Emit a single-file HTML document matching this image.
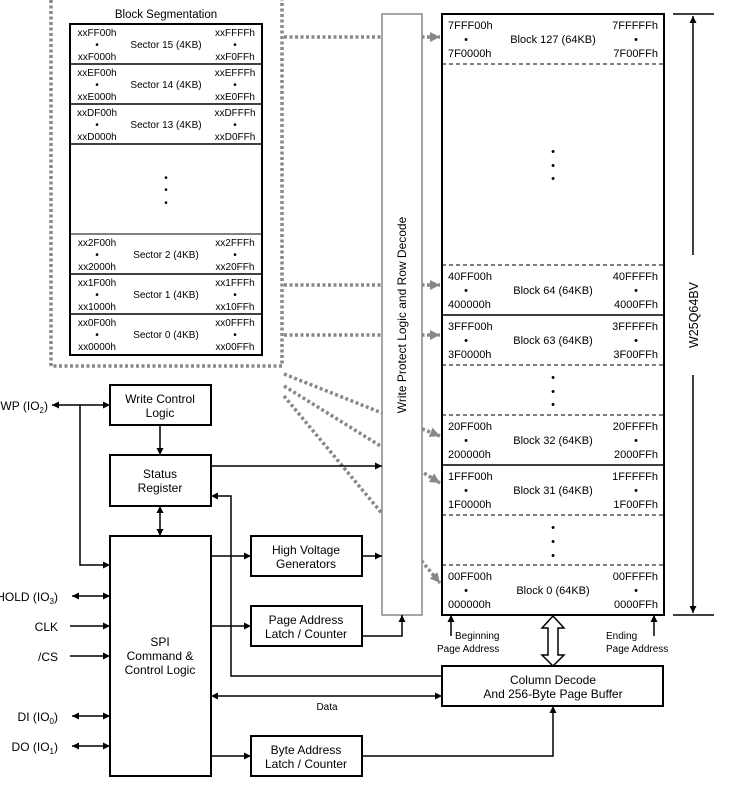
<!DOCTYPE html>
<html><head><meta charset="utf-8"><style>
html,body{margin:0;padding:0;background:#fff;}
svg{display:block;font-family:"Liberation Sans",Arial,sans-serif;}
</style></head><body>
<svg width="737" height="785" viewBox="0 0 737 785" xmlns="http://www.w3.org/2000/svg">
<defs>
<marker id="a" viewBox="0 0 10 10" refX="10" refY="5" markerWidth="9" markerHeight="7" markerUnits="userSpaceOnUse" orient="auto-start-reverse"><path d="M0,0L10,5L0,10z" fill="#000"/></marker>
<marker id="g" viewBox="0 0 10 10" refX="10" refY="5" markerWidth="11" markerHeight="10" markerUnits="userSpaceOnUse" orient="auto"><path d="M0,0L10,5L0,10z" fill="#888"/></marker>
</defs>
<g stroke="#888" stroke-width="3.5" stroke-dasharray="3,2.5" fill="none">
<path d="M51,0V366H282V0"/>
<path d="M284,37H440" marker-end="url(#g)"/>
<path d="M284,285H440" marker-end="url(#g)"/>
<path d="M284,335H440" marker-end="url(#g)"/>
<path d="M284,374L440,436" marker-end="url(#g)"/>
<path d="M284,386L440,483" marker-end="url(#g)"/>
<path d="M284,396L440,583" marker-end="url(#g)"/>
</g>
<text x="166" y="18" font-size="11.5" text-anchor="middle">Block Segmentation</text>
<rect x="70" y="24" width="192" height="331" fill="#fff" stroke="#000" stroke-width="2"/>
<g stroke="#000" stroke-width="1.5">
<line x1="70" y1="64" x2="262" y2="64"/><line x1="70" y1="104" x2="262" y2="104"/><line x1="70" y1="144" x2="262" y2="144"/>
<line x1="70" y1="234" x2="262" y2="234" stroke-width="1"/><line x1="70" y1="274" x2="262" y2="274"/><line x1="70" y1="314" x2="262" y2="314"/>
</g>
<g font-size="10" text-anchor="middle">
<g transform="translate(0,24)"><text x="97" y="12">xxFF00h</text><text x="97" y="24">•</text><text x="97" y="36">xxF000h</text><text x="166" y="24">Sector 15 (4KB)</text><text x="235" y="12">xxFFFFh</text><text x="235" y="24">•</text><text x="235" y="36">xxF0FFh</text></g>
<g transform="translate(0,64)"><text x="97" y="12">xxEF00h</text><text x="97" y="24">•</text><text x="97" y="36">xxE000h</text><text x="166" y="24">Sector 14 (4KB)</text><text x="235" y="12">xxEFFFh</text><text x="235" y="24">•</text><text x="235" y="36">xxE0FFh</text></g>
<g transform="translate(0,104)"><text x="97" y="12">xxDF00h</text><text x="97" y="24">•</text><text x="97" y="36">xxD000h</text><text x="166" y="24">Sector 13 (4KB)</text><text x="235" y="12">xxDFFFh</text><text x="235" y="24">•</text><text x="235" y="36">xxD0FFh</text></g>
<text x="166" y="181">•</text><text x="166" y="193">•</text><text x="166" y="206">•</text>
<g transform="translate(0,234)"><text x="97" y="12">xx2F00h</text><text x="97" y="24">•</text><text x="97" y="36">xx2000h</text><text x="166" y="24">Sector 2 (4KB)</text><text x="235" y="12">xx2FFFh</text><text x="235" y="24">•</text><text x="235" y="36">xx20FFh</text></g>
<g transform="translate(0,274)"><text x="97" y="12">xx1F00h</text><text x="97" y="24">•</text><text x="97" y="36">xx1000h</text><text x="166" y="24">Sector 1 (4KB)</text><text x="235" y="12">xx1FFFh</text><text x="235" y="24">•</text><text x="235" y="36">xx10FFh</text></g>
<g transform="translate(0,314)"><text x="97" y="12">xx0F00h</text><text x="97" y="24">•</text><text x="97" y="36">xx0000h</text><text x="166" y="24">Sector 0 (4KB)</text><text x="235" y="12">xx0FFFh</text><text x="235" y="24">•</text><text x="235" y="36">xx00FFh</text></g>
</g>
<!-- write protect -->
<rect x="382" y="14" width="40" height="601" fill="#fff" stroke="#888" stroke-width="1.5"/>
<text transform="translate(406,315) rotate(-90)" font-size="12" text-anchor="middle">Write Protect Logic and Row Decode</text>
<!-- memory array -->
<rect x="442" y="14" width="222" height="601" fill="#fff" stroke="#000" stroke-width="2"/>
<g stroke="#000" stroke-width="1" stroke-dasharray="4,3">
<line x1="442" y1="64" x2="664" y2="64"/><line x1="442" y1="265" x2="664" y2="265"/>
<line x1="442" y1="365" x2="664" y2="365"/><line x1="442" y1="415" x2="664" y2="415"/>
<line x1="442" y1="515" x2="664" y2="515"/><line x1="442" y1="565" x2="664" y2="565"/>
</g>
<g stroke="#000" stroke-width="1.5"><line x1="442" y1="315" x2="664" y2="315"/><line x1="442" y1="465" x2="664" y2="465"/></g>
<g font-size="11">
<g transform="translate(0,14)"><text x="448" y="15">7FFF00h</text><text x="466" y="29" text-anchor="middle">•</text><text x="448" y="43">7F0000h</text><text x="553" y="29" text-anchor="middle">Block 127 (64KB)</text><text x="658" y="15" text-anchor="end">7FFFFFh</text><text x="636" y="29" text-anchor="middle">•</text><text x="658" y="43" text-anchor="end">7F00FFh</text></g>
<g transform="translate(0,265)"><text x="448" y="15">40FF00h</text><text x="466" y="29" text-anchor="middle">•</text><text x="448" y="43">400000h</text><text x="553" y="29" text-anchor="middle">Block 64 (64KB)</text><text x="658" y="15" text-anchor="end">40FFFFh</text><text x="636" y="29" text-anchor="middle">•</text><text x="658" y="43" text-anchor="end">4000FFh</text></g>
<g transform="translate(0,315)"><text x="448" y="15">3FFF00h</text><text x="466" y="29" text-anchor="middle">•</text><text x="448" y="43">3F0000h</text><text x="553" y="29" text-anchor="middle">Block 63 (64KB)</text><text x="658" y="15" text-anchor="end">3FFFFFh</text><text x="636" y="29" text-anchor="middle">•</text><text x="658" y="43" text-anchor="end">3F00FFh</text></g>
<g transform="translate(0,415)"><text x="448" y="15">20FF00h</text><text x="466" y="29" text-anchor="middle">•</text><text x="448" y="43">200000h</text><text x="553" y="29" text-anchor="middle">Block 32 (64KB)</text><text x="658" y="15" text-anchor="end">20FFFFh</text><text x="636" y="29" text-anchor="middle">•</text><text x="658" y="43" text-anchor="end">2000FFh</text></g>
<g transform="translate(0,465)"><text x="448" y="15">1FFF00h</text><text x="466" y="29" text-anchor="middle">•</text><text x="448" y="43">1F0000h</text><text x="553" y="29" text-anchor="middle">Block 31 (64KB)</text><text x="658" y="15" text-anchor="end">1FFFFFh</text><text x="636" y="29" text-anchor="middle">•</text><text x="658" y="43" text-anchor="end">1F00FFh</text></g>
<g transform="translate(0,565)"><text x="448" y="15">00FF00h</text><text x="466" y="29" text-anchor="middle">•</text><text x="448" y="43">000000h</text><text x="553" y="29" text-anchor="middle">Block 0 (64KB)</text><text x="658" y="15" text-anchor="end">00FFFFh</text><text x="636" y="29" text-anchor="middle">•</text><text x="658" y="43" text-anchor="end">0000FFh</text></g>
<g text-anchor="middle"><text x="553" y="155">•</text><text x="553" y="169">•</text><text x="553" y="182">•</text>
<text x="553" y="381">•</text><text x="553" y="395">•</text><text x="553" y="408">•</text>
<text x="553" y="531">•</text><text x="553" y="545">•</text><text x="553" y="559">•</text></g>
</g>
<!-- W25Q64BV -->
<g stroke="#000" stroke-width="1.5" fill="none">
<line x1="673" y1="14" x2="714" y2="14"/><line x1="673" y1="615" x2="714" y2="615"/>
<line x1="693" y1="255" x2="693" y2="16" marker-end="url(#a)"/>
<line x1="693" y1="375" x2="693" y2="613" marker-end="url(#a)"/>
</g>
<text transform="translate(698,315) rotate(-90)" font-size="12.5" text-anchor="middle">W25Q64BV</text>
<!-- left blocks -->
<g fill="#fff" stroke="#000" stroke-width="2">
<rect x="110" y="385" width="101" height="40"/>
<rect x="110" y="455" width="101" height="51"/>
<rect x="110" y="536" width="101" height="240"/>
<rect x="251" y="536" width="111" height="40"/>
<rect x="251" y="606" width="111" height="40"/>
<rect x="251" y="736" width="111" height="40"/>
<rect x="442" y="666" width="221" height="40"/>
</g>
<g font-size="12" text-anchor="middle">
<text x="160" y="403">Write Control</text><text x="160" y="417">Logic</text>
<text x="160" y="478">Status</text><text x="160" y="492">Register</text>
<text x="160" y="646">SPI</text><text x="160" y="660">Command &amp;</text><text x="160" y="674">Control Logic</text>
<text x="306" y="554">High Voltage</text><text x="306" y="568">Generators</text>
<text x="306" y="624">Page Address</text><text x="306" y="638">Latch / Counter</text>
<text x="306" y="754">Byte Address</text><text x="306" y="768">Latch / Counter</text>
<text x="553" y="684">Column Decode</text><text x="553" y="698">And 256-Byte Page Buffer</text>
</g>
<g font-size="12" text-anchor="end">
<text x="48" y="410">WP (IO<tspan font-size="8" dy="3">2</tspan><tspan dy="-3">)</tspan></text>
<text x="58" y="601">HOLD (IO<tspan font-size="8" dy="3">3</tspan><tspan dy="-3">)</tspan></text>
<text x="58" y="631">CLK</text>
<text x="58" y="661">/CS</text>
<text x="58" y="721">DI (IO<tspan font-size="8" dy="3">0</tspan><tspan dy="-3">)</tspan></text>
<text x="58" y="751">DO (IO<tspan font-size="8" dy="3">1</tspan><tspan dy="-3">)</tspan></text>
</g>
<text x="327" y="710" font-size="10" text-anchor="middle">Data</text>
<g font-size="10">
<text x="455" y="639">Beginning</text><text x="437" y="652">Page Address</text>
<text x="606" y="639">Ending</text><text x="606" y="652">Page Address</text>
</g>
<!-- connectors -->
<g stroke="#000" stroke-width="1.5" fill="none">
<path d="M52,405H110" marker-start="url(#a)" marker-end="url(#a)"/>
<path d="M80,405V565H110" marker-end="url(#a)"/>
<path d="M160,425V455" marker-end="url(#a)"/>
<path d="M160,506V536" marker-start="url(#a)" marker-end="url(#a)"/>
<path d="M211,466H382" marker-end="url(#a)"/>
<path d="M442,676H231V496H211" marker-end="url(#a)"/>
<path d="M211,556H251" marker-end="url(#a)"/>
<path d="M362,556H382" marker-end="url(#a)"/>
<path d="M211,626H251" marker-end="url(#a)"/>
<path d="M362,636H402V615" marker-end="url(#a)"/>
<path d="M211,696H442" marker-start="url(#a)" marker-end="url(#a)"/>
<path d="M211,756H251" marker-end="url(#a)"/>
<path d="M362,756H553V706" marker-end="url(#a)"/>
<path d="M72,596H110" marker-start="url(#a)" marker-end="url(#a)"/>
<path d="M70,626H110" marker-end="url(#a)"/>
<path d="M70,656H110" marker-end="url(#a)"/>
<path d="M72,716H110" marker-start="url(#a)" marker-end="url(#a)"/>
<path d="M72,746H110" marker-start="url(#a)" marker-end="url(#a)"/>
<path d="M451,636V615" marker-end="url(#a)"/>
<path d="M654,636V615" marker-end="url(#a)"/>
</g>
<path d="M553,616L564,628H558V655H564L553,666L542,655H548V628H542Z" fill="#fff" stroke="#000" stroke-width="1.5"/>
</svg>
</body></html>
